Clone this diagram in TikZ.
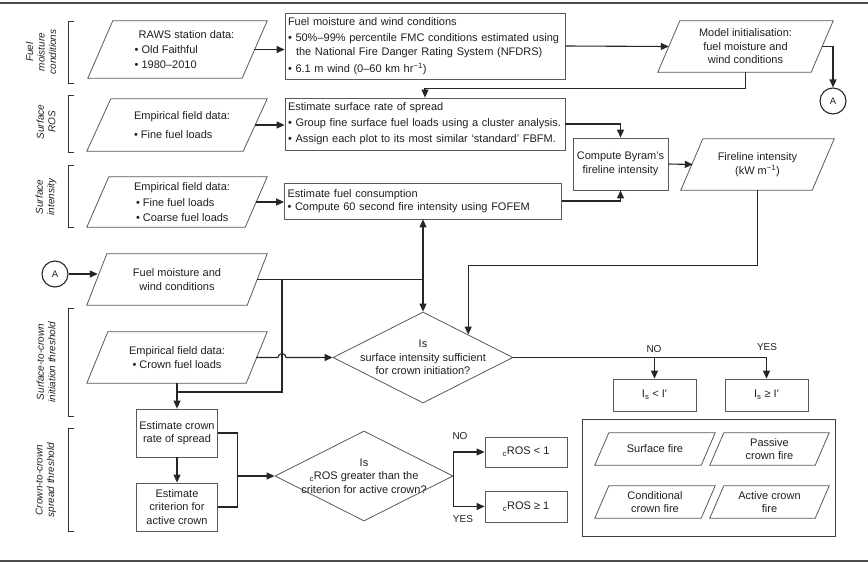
\documentclass[tikz,border=0pt]{standalone}
\usepackage{fontspec}
\setmainfont{Liberation Sans}
\usetikzlibrary{arrows.meta,shapes.geometric}
\begin{document}
\begin{tikzpicture}[x=1pt,y=-1pt,
  every node/.style={font=\fontsize{11}{13.5}\selectfont, text=black!88},
  box/.style={rectangle, draw=black!65, line width=0.8pt, inner sep=0pt, align=center},
  lbox/.style={rectangle, draw=black!65, line width=0.8pt, inner xsep=3pt, inner ysep=0pt, align=left},
  para/.style={rectangle, inner sep=0pt, align=center},
  dia/.style={diamond, draw=black!65, line width=0.8pt, inner sep=-20pt, align=center},
  conn/.style={circle, draw=black!85, line width=1.1pt, minimum size=26pt, inner sep=0pt, font=\fontsize{9.5}{10}\selectfont},
  rot/.style={rotate=90, align=center, font=\fontsize{10}{11.5}\selectfont\itshape},
  lbl/.style={font=\fontsize{10}{12}\selectfont, inner sep=0pt},
  ln/.style={draw=black!85, line width=1.1pt},
  arr/.style={ln, -{Triangle[length=8pt,width=7pt]}},
  brk/.style={draw=black!80, line width=1pt},
  rule/.style={draw=black!70, line width=1.2pt},
]
\useasboundingbox (0,0) rectangle (868,563);

% rules
\draw[rule] (0,3) -- (868,3);
\draw[rule] (0,561) -- (868,561);

% brackets and row labels
\draw[brk] (74,21) -- (68,21) -- (68,83) -- (74,83);
\draw[brk] (74,95) -- (68,95) -- (68,152) -- (74,152);
\draw[brk] (74,165) -- (68,165) -- (68,227) -- (74,227);
\draw[brk] (74,308) -- (68,308) -- (68,416) -- (74,416);
\draw[brk] (74,428) -- (68,428) -- (68,531) -- (74,531);
\node[rot] (lab1) at (41,52) {Fuel\\moisture\\conditions};
\node[rot] (lab2) at (46,122) {Surface\\ROS};
\node[rot] (lab3) at (46,197) {Surface\\intensity};
\node[rot] (lab4) at (46,362) {Surface-to-crown\\initiation threshold};
\node[rot] (lab5) at (46,480) {Crown-to-crown\\spread threshold};

% parallelogram data nodes
\node[para, align=left, minimum width=179, minimum height=57] (raws) at (177.5,49.5)
  {\hspace*{18pt}RAWS station data:\\[1.5pt]\hspace*{14pt}• Old Faithful\\[1.5pt]\hspace*{14pt}• 1980–2010};
\node[para, minimum width=175, minimum height=51] (minit) at (745.5,46.5)
  {Model initialisation:\\fuel moisture and\\wind conditions};
\node[para, align=left, minimum width=180, minimum height=52] (esrd) at (177,125)
  {\hspace*{10pt}Empirical field data:\\[5.5pt]\hspace*{10pt}• Fine fuel loads};
\node[para, minimum width=153, minimum height=51] (fline) at (757.5,164.5)
  {Fireline intensity\\(kW m\textsuperscript{−1})};
\node[para, align=left, minimum width=180, minimum height=50] (efd) at (177,202)
  {\hspace*{10pt}Empirical field data:\\[2pt]\hspace*{12pt}• Fine fuel loads\\[1.5pt]\hspace*{12pt}• Coarse fuel loads};
\node[para, minimum width=180, minimum height=51] (fmw2) at (177,279.5)
  {Fuel moisture and\\wind conditions};
\node[para, minimum width=180, minimum height=51] (cfd) at (177,357.5)
  {Empirical field data:\\• Crown fuel loads};

% process boxes
\node[lbox, minimum width=280, minimum height=66, text width=274] (fmw) at (425,46)
  {Fuel moisture and wind conditions\\[2.5pt]• 50\%–99\% percentile FMC conditions estimated using\\[0.5pt]\hspace*{8pt}the National Fire Danger Rating System (NFDRS)\\[3.5pt]• 6.1 m wind (0–60 km hr\textsuperscript{−1})};
\node[lbox, minimum width=280, minimum height=52, text width=274] (esr) at (425,124)
  {Estimate surface rate of spread\\[2.5pt]• Group fine surface fuel loads using a cluster analysis.\\[2.5pt]• Assign each plot to its most similar ‘standard’ FBFM.};
\node[lbox, minimum width=277, minimum height=36, text width=271] (efc) at (423,201)
  {Estimate fuel consumption\\[-0.5pt]• Compute 60 second fire intensity using FOFEM};
\node[box, minimum width=95, minimum height=52] (byram) at (620.5,164)
  {Compute Byram’s\\fireline intensity};
\node[box, minimum width=83, minimum height=32] (isl) at (654.5,395) {I\textsubscript{s} < I′};
\node[box, minimum width=83, minimum height=32] (isg) at (766.5,395) {I\textsubscript{s} ≥ I′};
\node[box, minimum width=81, minimum height=48] (crs) at (177,433) {Estimate crown\\rate of spread};
\node[box, minimum width=81, minimum height=48] (cac) at (177,507) {Estimate\\criterion for\\active crown};
\node[box, minimum width=82, minimum height=30] (rl) at (526,452) {\textsubscript{c}ROS < 1};
\node[box, minimum width=82, minimum height=31] (rg) at (526,506.5) {\textsubscript{c}ROS ≥ 1};

% decisions
\node[dia, minimum width=180, minimum height=91] (d1) at (423,357.5)
  {Is\\surface intensity sufficient\\for crown initiation?};
\node[dia, minimum width=178, minimum height=90] (d2) at (364,476)
  {Is\\\textsubscript{c}ROS greater than the\\criterion for active crown?};

% outcomes
\node[box, draw=black!75, line width=1pt, minimum width=253, minimum height=117] (outc) at (708.5,477.5) {};
\node[para, minimum width=120, minimum height=32] (sf) at (655,449) {Surface fire};
\node[para, minimum width=119, minimum height=32] (pcf) at (769.5,449) {Passive\\crown fire};
\node[para, minimum width=120, minimum height=32] (ccf) at (655,502) {Conditional\\crown fire};
\node[para, minimum width=119, minimum height=32] (acf) at (769.5,502) {Active crown\\fire};

% off-page connectors
\node[conn] (A1) at (833,101) {A};
\node[conn] (A2) at (55,274) {A};

% parallelogram outlines
\foreach \n/\s in {raws/25,esrd/24,efd/22,fmw2/20,cfd/21,minit/22,fline/22,sf/14,pcf/14,ccf/14,acf/14}
  \draw[draw=black!65, line width=0.8pt] ([xshift=\s]\n.north west) -- (\n.north east)
     -- ([xshift=-\s]\n.south east) -- (\n.south west) -- cycle;

% connectors
\draw[arr] ([xshift=-13]raws.east) -- (raws.east -| fmw.west);
\draw[arr] (fmw.east) -- ([xshift=11]minit.west);
\draw[arr] ([xshift=-11]minit.east) -| (A1.north);
\draw[arr] (minit.south) -- ++(0,16) -| (esr.north);
\draw[arr] ([xshift=-12]esrd.east) -- (esrd.east -| esr.west);
\draw[arr] (esr.east) -| (byram.north);
\draw[arr] ([xshift=-11]efd.east) -- (efd.east -| efc.west);
\draw[arr] (efc.east) -| (byram.south);
\draw[arr] (byram.east) -- ([xshift=12]fline.west);
\draw[arr] (fline.south) -- ++(0,75) -| (d1.north east);

\draw[arr] (A2.east) -- ([xshift=11]fmw2.west |- A2.east);
\coordinate (j1) at (efc.south |- fmw2.east);
\coordinate (j2) at (282,279.5);
\coordinate (j3) at (177,392);
\draw[ln] ([xshift=-10]fmw2.east) -- (j1);
\draw[arr] (j1) -- (efc.south);
\draw[arr] (j1) -- (d1.north);
\draw[ln] (j2) |- (j3);
\draw[arr] (cfd.south) -- (crs.north);
\draw[arr] ([xshift=-11]cfd.east) -- ([xshift=-4]j2 |- cfd.east)
   arc[start angle=180, end angle=0, radius=4pt] -- (d1.west);

\draw[arr] (d1.east) -| (isg.north);
\draw[arr] (isl.north |- d1.east) -- (isl.north);
\node[lbl] (no1) at (654,349) {NO};
\node[lbl] (yes1) at (767,347) {YES};

\draw[arr] (crs.south) -- (cac.north);
\draw[ln] (crs.east) -- ++(20,0) |- (cac.east);
\draw[arr] ([xshift=20]crs.east |- d2.west) -- (d2.west);
\draw[arr] (d2.east) |- (rl.west);
\draw[arr] (d2.east) |- (rg.west);
\node[lbl] (no2) at (460,436) {NO};
\node[lbl] (yes2) at (463,519) {YES};
\end{tikzpicture}
\end{document}
